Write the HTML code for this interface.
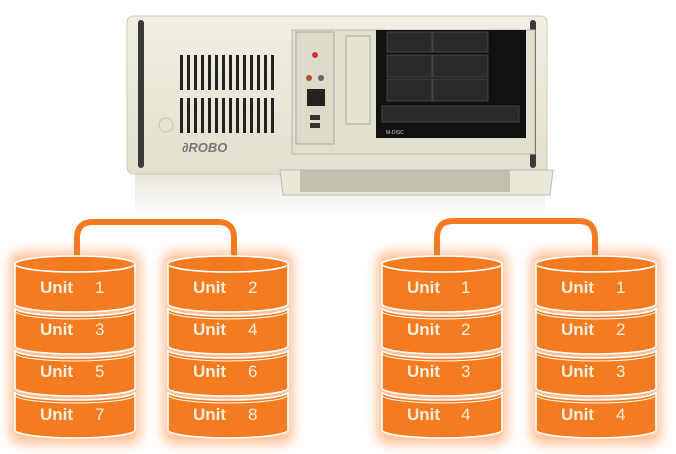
<!DOCTYPE html>
<html><head><meta charset="utf-8"><style>
html,body{margin:0;padding:0;background:#fff;width:676px;height:454px;overflow:hidden}
text{font-family:"Liberation Sans",sans-serif}
</style></head><body>
<svg width="676" height="454" viewBox="0 0 676 454" xmlns="http://www.w3.org/2000/svg">
<defs>
<filter id="glow" x="-30%" y="-30%" width="160%" height="160%"><feGaussianBlur stdDeviation="6"/></filter>
<linearGradient id="body" x1="0" y1="0" x2="0" y2="1"><stop offset="0" stop-color="#f1efe2"/><stop offset="1" stop-color="#e3e0cf"/></linearGradient>
<linearGradient id="refl" x1="0" y1="0" x2="0" y2="1"><stop offset="0" stop-color="#e6e4da"/><stop offset="1" stop-color="#fff"/></linearGradient>
</defs>
<!-- server reflection -->
<rect x="135" y="172" width="410" height="45" fill="url(#refl)"/>
<!-- server -->
<rect x="127" y="16" width="420" height="158" rx="6" fill="url(#body)" stroke="#cfcbb8"/>
<rect x="138" y="20" width="6" height="148" rx="3" fill="#3a3a3a"/>
<rect x="530" y="20" width="6" height="148" rx="3" fill="#3a3a3a"/>
<g fill="#222">
<rect x="180" y="55" width="3" height="35"/><rect x="187" y="55" width="3" height="35"/><rect x="194" y="55" width="3" height="35"/><rect x="201" y="55" width="3" height="35"/><rect x="208" y="55" width="3" height="35"/><rect x="215" y="55" width="3" height="35"/><rect x="222" y="55" width="3" height="35"/><rect x="229" y="55" width="3" height="35"/><rect x="236" y="55" width="3" height="35"/><rect x="243" y="55" width="3" height="35"/><rect x="250" y="55" width="3" height="35"/><rect x="257" y="55" width="3" height="35"/><rect x="264" y="55" width="3" height="35"/><rect x="271" y="55" width="3" height="35"/>
<rect x="180" y="98" width="3" height="35"/><rect x="187" y="98" width="3" height="35"/><rect x="194" y="98" width="3" height="35"/><rect x="201" y="98" width="3" height="35"/><rect x="208" y="98" width="3" height="35"/><rect x="215" y="98" width="3" height="35"/><rect x="222" y="98" width="3" height="35"/><rect x="229" y="98" width="3" height="35"/><rect x="236" y="98" width="3" height="35"/><rect x="243" y="98" width="3" height="35"/><rect x="250" y="98" width="3" height="35"/><rect x="257" y="98" width="3" height="35"/><rect x="264" y="98" width="3" height="35"/><rect x="271" y="98" width="3" height="35"/>
</g>
<circle cx="166" cy="125" r="7" fill="#e8e4d2" stroke="#c8c4b0"/>
<text x="182" y="152" font-size="13" font-weight="bold" fill="#777" font-style="italic">∂ROBO</text>
<rect x="292" y="30" width="243" height="124" fill="#e2dfcd" stroke="#bbb"/>
<rect x="296" y="32" width="38" height="112" fill="#dedac8" stroke="#aaa"/>
<circle cx="315" cy="55" r="3" fill="#c33"/>
<circle cx="309" cy="78" r="3" fill="#a53"/><circle cx="321" cy="78" r="3" fill="#666"/>
<rect x="307" y="89" width="18" height="17" fill="#222"/>
<rect x="310" y="115" width="10" height="5" fill="#333"/><rect x="310" y="123" width="10" height="5" fill="#333"/>
<rect x="346" y="36" width="24" height="88" fill="#e6e3d3" stroke="#aaa"/>
<rect x="376" y="30" width="150" height="108" fill="#111"/>
<g fill="#2a2a2a" stroke="#444">
<rect x="387" y="32" width="45" height="20"/><rect x="387" y="55" width="45" height="22"/><rect x="387" y="79" width="45" height="22"/>
<rect x="433" y="32" width="55" height="20"/><rect x="433" y="55" width="55" height="22"/><rect x="433" y="79" width="55" height="22"/>
<rect x="382" y="106" width="137" height="16"/>
</g>
<text x="386" y="134" font-size="5" fill="#ccc">M-DISC</text>
<polygon points="280,170 553,170 550,195 283,195" fill="#ebe8da" stroke="#bbb"/>
<rect x="300" y="170" width="210" height="22" fill="#a9a596" opacity="0.6"/>
<!-- glows -->
<g fill="#ff8a3a" opacity="0.55" filter="url(#glow)">
<rect x="10" y="252" width="130" height="192" rx="10"/><rect x="163" y="252" width="130" height="192" rx="10"/>
<rect x="377" y="252" width="130" height="192" rx="10"/><rect x="531" y="252" width="130" height="192" rx="10"/>
</g>
<!-- arches -->
<g fill="none" stroke="#f47a22" stroke-width="6">
<path d="M77,258 V238 Q77,222 93,222 H218 Q234,222 234,238 V258"/>
<path d="M437,258 V238 Q437,221 453,221 H579 Q595,221 595,238 V258"/>
</g>
<!-- cylinders -->
<g id="c1" stroke="#fff" stroke-width="1.6" fill="#f47b20">
<path d="M15,392 V430 A60,8 0 0 0 135,430 V392 A60,8 0 0 1 15,392Z"/>
<path d="M15,395 A60,8 0 0 0 135,395" fill="none" stroke-width="1"/>
<path d="M15,350 V388 A60,8 0 0 0 135,388 V350 A60,8 0 0 1 15,350Z"/>
<path d="M15,353 A60,8 0 0 0 135,353" fill="none" stroke-width="1"/>
<path d="M15,308 V346 A60,8 0 0 0 135,346 V308 A60,8 0 0 1 15,308Z"/>
<path d="M15,311 A60,8 0 0 0 135,311" fill="none" stroke-width="1"/>
<path d="M15,264 V304 A60,8 0 0 0 135,304 V264Z"/>
<ellipse cx="75" cy="264" rx="60" ry="8"/>
</g>
<use href="#c1" x="153"/>
<use href="#c1" x="367"/>
<use href="#c1" x="521"/>
<g fill="#fbeede" font-size="17" font-weight="bold">
<text x="40" y="293">Unit</text><text x="95" y="293" font-weight="normal">1</text>
<text x="40" y="335">Unit</text><text x="95" y="335" font-weight="normal">3</text>
<text x="40" y="377">Unit</text><text x="95" y="377" font-weight="normal">5</text>
<text x="40" y="420">Unit</text><text x="95" y="420" font-weight="normal">7</text>
<text x="193" y="293">Unit</text><text x="248" y="293" font-weight="normal">2</text>
<text x="193" y="335">Unit</text><text x="248" y="335" font-weight="normal">4</text>
<text x="193" y="377">Unit</text><text x="248" y="377" font-weight="normal">6</text>
<text x="193" y="420">Unit</text><text x="248" y="420" font-weight="normal">8</text>
<text x="407" y="293">Unit</text><text x="461" y="293" font-weight="normal">1</text>
<text x="407" y="335">Unit</text><text x="461" y="335" font-weight="normal">2</text>
<text x="407" y="377">Unit</text><text x="461" y="377" font-weight="normal">3</text>
<text x="407" y="420">Unit</text><text x="461" y="420" font-weight="normal">4</text>
<text x="561" y="293">Unit</text><text x="616" y="293" font-weight="normal">1</text>
<text x="561" y="335">Unit</text><text x="616" y="335" font-weight="normal">2</text>
<text x="561" y="377">Unit</text><text x="616" y="377" font-weight="normal">3</text>
<text x="561" y="420">Unit</text><text x="616" y="420" font-weight="normal">4</text>
</g>
</svg>
</body></html>
